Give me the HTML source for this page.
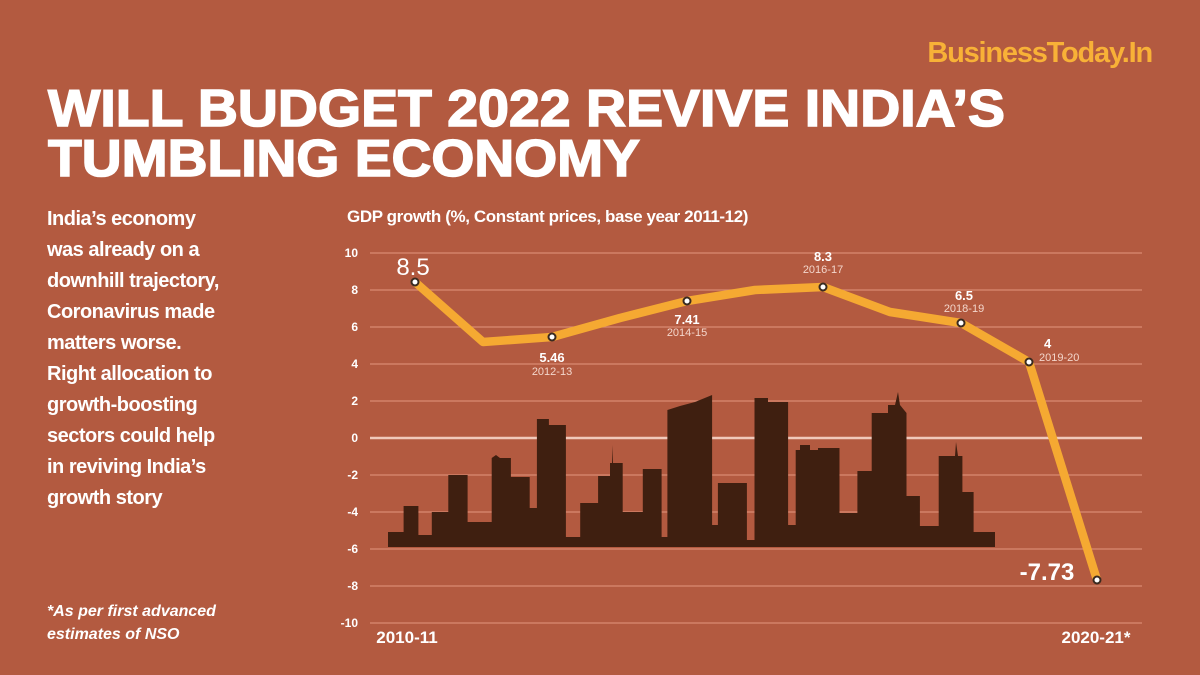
<!DOCTYPE html>
<html><head><meta charset="utf-8"><style>
html,body{margin:0;padding:0;background:#b35a40;}
svg{display:block}
text{font-family:"Liberation Sans",sans-serif;}
</style></head><body>
<svg width="1200" height="675" viewBox="0 0 1200 675" xmlns="http://www.w3.org/2000/svg">
<rect width="1200" height="675" fill="#b35a40"/>
<text x="1152" y="62" text-anchor="end" font-size="29" font-weight="bold" fill="#f8b137" letter-spacing="-1.2">BusinessToday.In</text>
<g fill="#fff" font-weight="bold">
<text x="48" y="126" font-size="52" stroke="#fff" stroke-width="1.5" textLength="957" lengthAdjust="spacingAndGlyphs">WILL BUDGET 2022 REVIVE INDIA’S</text>
<text x="48" y="176" font-size="52" stroke="#fff" stroke-width="1.5" textLength="592" lengthAdjust="spacingAndGlyphs">TUMBLING ECONOMY</text>
<g font-size="20" letter-spacing="-0.5">
<text x="47" y="225">India’s economy</text>
<text x="47" y="256">was already on a</text>
<text x="47" y="287">downhill trajectory,</text>
<text x="47" y="318">Coronavirus made</text>
<text x="47" y="349">matters worse.</text>
<text x="47" y="380">Right allocation to</text>
<text x="47" y="411">growth-boosting</text>
<text x="47" y="442">sectors could help</text>
<text x="47" y="473">in reviving India’s</text>
<text x="47" y="504">growth story</text>
</g>
<text x="347" y="222" font-size="17" letter-spacing="-0.4">GDP growth (%, Constant prices, base year 2011-12)</text>
<text x="47" y="616" font-size="16" font-style="italic">*As per first advanced</text>
<text x="47" y="639" font-size="16" font-style="italic">estimates of NSO</text>
</g>
<g stroke="#d98a72" stroke-width="1.2">
<line x1="370" x2="1142" y1="253" y2="253"/><line x1="370" x2="1142" y1="290" y2="290"/>
<line x1="370" x2="1142" y1="327" y2="327"/><line x1="370" x2="1142" y1="364" y2="364"/>
<line x1="370" x2="1142" y1="401" y2="401"/>
<line x1="370" x2="1142" y1="475" y2="475"/><line x1="370" x2="1142" y1="512" y2="512"/>
<line x1="370" x2="1142" y1="549" y2="549"/><line x1="370" x2="1142" y1="586" y2="586"/>
<line x1="370" x2="1142" y1="623" y2="623"/>
</g>
<line x1="370" x2="1142" y1="438" y2="438" stroke="#f1c9bb" stroke-width="2.5"/>
<g fill="#fff" font-size="12" font-weight="bold" text-anchor="end">
<text x="358" y="257">10</text><text x="358" y="294">8</text><text x="358" y="331">6</text>
<text x="358" y="368">4</text><text x="358" y="405">2</text><text x="358" y="442">0</text>
<text x="358" y="479">-2</text><text x="358" y="516">-4</text><text x="358" y="553">-6</text>
<text x="358" y="590">-8</text><text x="358" y="627">-10</text>
</g>
<path fill="#3f1f10" d="M388,547 L388,532 L403.6,532 L403.6,506 L418.4,506 L418.4,535 L431.8,535 L431.8,512 L448.3,512 L448.3,475 L467.6,475 L467.6,522 L491.7,522 L491.7,458 L496,455 L500,458 L510.9,458 L510.9,477 L529.7,477 L529.7,508 L536.9,508 L536.9,419 L548.9,419 L548.9,425 L565.9,425 L565.9,537 L580.2,537 L580.2,503 L598.1,503 L598.1,476 L610,476 L610,463 L612,463 L612,445 L613,463 L622.7,463 L622.7,512 L642.8,512 L642.8,469 L661.6,469 L661.6,537 L667.4,537 L667.4,410 L680,406 L695,402 L712.1,395 L712.1,525 L717.9,525 L717.9,483 L746.9,483 L746.9,540 L754.5,540 L754.5,398 L768,398 L768,402 L788.1,402 L788.1,525 L795.7,525 L795.7,450 L800,450 L800,445 L810,445 L810,450 L818,450 L818,448 L839.5,448 L839.5,513 L857.4,513 L857.4,471 L871.7,471 L871.7,413 L888,413 L888,405 L895,405 L898,392 L900,405 L906.5,413 L906.5,496 L919.9,496 L919.9,526 L938.7,526 L938.7,456 L955,456 L956,442 L958,456 L962.4,456 L962.4,492 L973.6,492 L973.6,532 L995,532 L995,547 Z"/>
<polyline fill="none" stroke="#f5a932" stroke-width="8.5" stroke-linejoin="round" stroke-linecap="round" points="415,282 483,342 552,337 620,318 687,301 755,290 823,287 890,312 961,323 1029,362 1097,580"/>
<g fill="#fff" stroke="#3a2a20" stroke-width="2">
<circle cx="415" cy="282" r="3.5"/><circle cx="552" cy="337" r="3.5"/><circle cx="687" cy="301" r="3.5"/>
<circle cx="823" cy="287" r="3.5"/><circle cx="961" cy="323" r="3.5"/><circle cx="1029" cy="362" r="3.5"/>
<circle cx="1097" cy="580" r="3.5"/>
</g>
<g fill="#fff" text-anchor="middle">
<text x="413" y="275" font-size="24">8.5</text>
<text x="552" y="362" font-size="13" font-weight="bold">5.46</text>
<text x="552" y="375" font-size="11" fill="#f3d6cb">2012-13</text>
<text x="687" y="324" font-size="13" font-weight="bold">7.41</text>
<text x="687" y="336" font-size="11" fill="#f3d6cb">2014-15</text>
<text x="823" y="261" font-size="13" font-weight="bold">8.3</text>
<text x="823" y="273" font-size="11" fill="#f3d6cb">2016-17</text>
<text x="964" y="300" font-size="13" font-weight="bold">6.5</text>
<text x="964" y="312" font-size="11" fill="#f3d6cb">2018-19</text>
<text x="1044" y="348" font-size="13" font-weight="bold" text-anchor="start">4</text>
<text x="1039" y="361" font-size="11" fill="#f3d6cb" text-anchor="start">2019-20</text>
<text x="1047" y="580" font-size="24" font-weight="bold">-7.73</text>
<text x="407" y="643" font-size="17" font-weight="bold">2010-11</text>
<text x="1096" y="643" font-size="17" font-weight="bold">2020-21*</text>
</g>
</svg>
</body></html>
